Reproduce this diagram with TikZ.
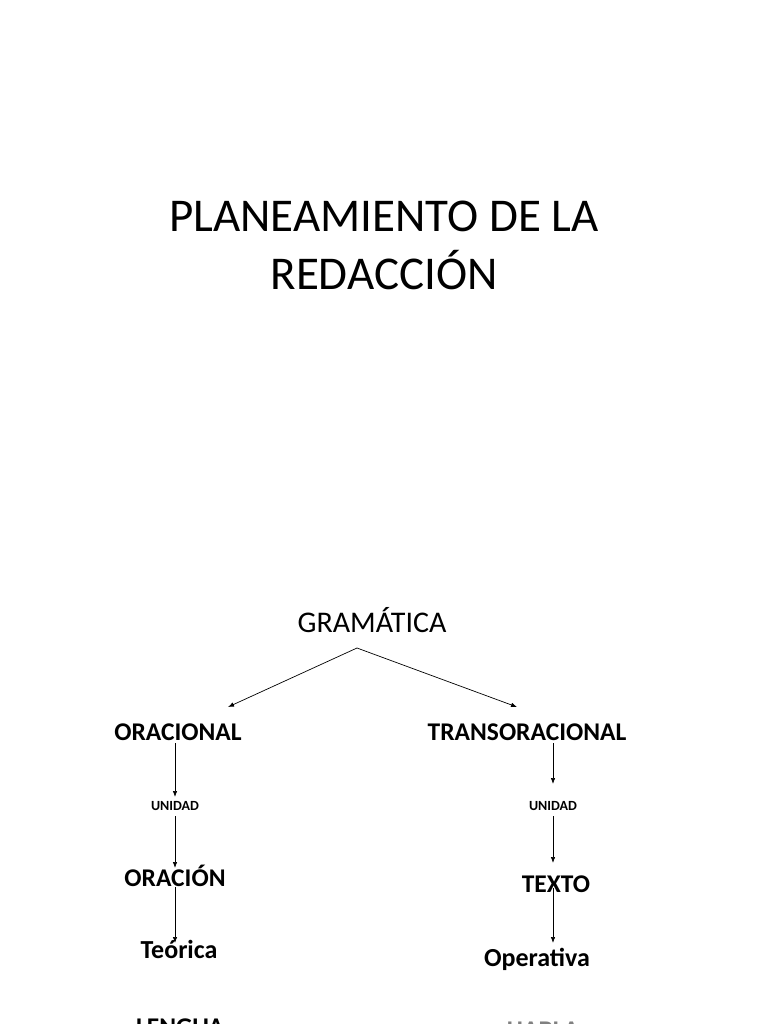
\documentclass[tikz,border=0pt]{standalone}
\usepackage{fontspec}
\setmainfont{Carlito}
\usetikzlibrary{arrows.meta}
\begin{document}
\begin{tikzpicture}[x=1pt,y=-1pt,
  lbl/.style={anchor=base,inner sep=0pt,text=black},
  big/.style={lbl,font=\fontsize{25.5}{30}\selectfont\bfseries},
  mid/.style={lbl,font=\fontsize{26}{30}\selectfont\bfseries},
  tiny/.style={lbl,font=\fontsize{14}{16}\selectfont\bfseries},
  ttl/.style={lbl,font=\fontsize{47}{56}\selectfont},
  arr/.style={-{Latex[length=6pt,width=4.5pt]},line width=0.7pt,black}]
\clip (0,0) rectangle (768,1024);
\fill[white] (0,0) rectangle (768,1024);
\node[ttl] (t1) at (384,232) {PLANEAMIENTO DE LA};
\node[ttl] (t2) at (384,289) {REDACCIÓN};
\node[lbl,font=\fontsize{30}{36}\selectfont] (g) at (372,632) {GRAMÁTICA};
\node[big] (or) at (178,740) {ORACIONAL};
\node[big] (tr) at (527,740) {TRANSORACIONAL};
\node[tiny] (u1) at (175,810) {UNIDAD};
\node[tiny] (u2) at (553,810) {UNIDAD};
\node[big] (oc) at (175,886) {ORACIÓN};
\node[big] (tx) at (556,892) {TEXTO};
\node[mid] (te) at (179,958) {Teórica};
\node[mid] (op) at (537,966) {Operativa};
\node[big] (le) at (180,1035) {LENGUA};
\node[big,text=gray] (ha) at (543,1038) {HABLA};
\coordinate (gs) at (357,648);
\coordinate (ore) at (228,707);
\coordinate (tre) at (517,707);
\coordinate (l1a) at (175,743); \coordinate (l1b) at (175,797);
\coordinate (l2a) at (175,816); \coordinate (l2b) at (175,868);
\coordinate (l3a) at (175,887); \coordinate (l3b) at (175,943);
\coordinate (r1a) at (553,743); \coordinate (r1b) at (553,784);
\coordinate (r2a) at (553,816); \coordinate (r2b) at (553,863);
\coordinate (r3a) at (553,888); \coordinate (r3b) at (553,943);
\draw[arr] (gs) -- (ore);
\draw[arr] (gs) -- (tre);
\draw[arr] (l1a) -- (l1b);
\draw[arr] (l2a) -- (l2b);
\draw[arr] (l3a) -- (l3b);
\draw[arr] (r1a) -- (r1b);
\draw[arr] (r2a) -- (r2b);
\draw[arr] (r3a) -- (r3b);
\end{tikzpicture}
\end{document}
